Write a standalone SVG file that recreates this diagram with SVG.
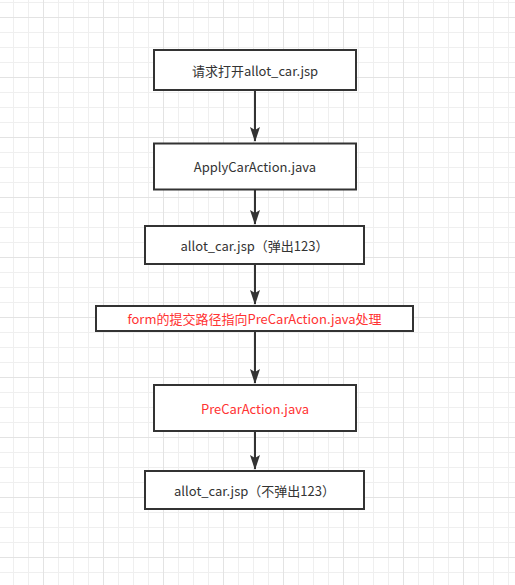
<svg xmlns="http://www.w3.org/2000/svg" width="515" height="585" viewBox="0 0 515 585">
<style>
.box{fill:#ffffff;stroke:#333333;stroke-width:2}
.t{font-family:"Noto Sans CJK SC","Noto Sans",sans-serif;font-size:13px;fill:#333333;text-anchor:middle;dominant-baseline:central}
.red{fill:#ff3333}
.edge{stroke:#333333;stroke-width:2;fill:none}
</style>
<defs>
<pattern id="minor" patternUnits="userSpaceOnUse" x="43" y="2" width="15" height="15">
<path d="M0.5 0V15M0 0.5H15" stroke="#efefef" stroke-width="1" fill="none"/>
</pattern>
<pattern id="major" patternUnits="userSpaceOnUse" x="43" y="17" width="60" height="60">
<path d="M0.5 0V60M0 0.5H60" stroke="#e3e3e3" stroke-width="1" fill="none"/>
</pattern>
<marker id="arr" markerWidth="16" markerHeight="12" refX="14" refY="6" orient="auto" markerUnits="userSpaceOnUse">
<path d="M0 1L15 6L0 11L3 6Z" fill="#333333"/>
</marker>
</defs>
<rect width="515" height="585" fill="#ffffff"/>
<rect width="515" height="585" fill="url(#minor)"/>
<rect width="515" height="585" fill="url(#major)"/>
<g id="edges">
<line class="edge" x1="255" y1="90" x2="255" y2="141" marker-end="url(#arr)"/>
<line class="edge" x1="255" y1="189.5" x2="255" y2="224" marker-end="url(#arr)"/>
<line class="edge" x1="255" y1="264" x2="255" y2="304" marker-end="url(#arr)"/>
<line class="edge" x1="255" y1="331" x2="255" y2="383" marker-end="url(#arr)"/>
<line class="edge" x1="255" y1="431" x2="255" y2="469" marker-end="url(#arr)"/>
</g>
<g id="n1"><rect class="box" x="154" y="50" width="202" height="40"/><text class="t" x="255" y="70">请求打开allot_car.jsp</text></g>
<g id="n2"><rect class="box" x="154" y="143.5" width="202" height="46"/><text class="t" x="255" y="166.5">ApplyCarAction.java</text></g>
<g id="n3"><rect class="box" x="145" y="226" width="219" height="38"/><text class="t" x="254.5" y="245">allot_car.jsp（弹出123）</text></g>
<g id="n4"><rect class="box" x="96" y="306" width="317" height="25"/><text class="t red" x="254.5" y="318.5">form的提交路径指向PreCarAction.java处理</text></g>
<g id="n5"><rect class="box" x="154" y="385" width="202" height="46"/><text class="t red" x="255" y="408">PreCarAction.java</text></g>
<g id="n6"><rect class="box" x="145" y="471" width="219" height="38"/><text class="t" x="254.5" y="490">allot_car.jsp（不弹出123）</text></g>
</svg>
